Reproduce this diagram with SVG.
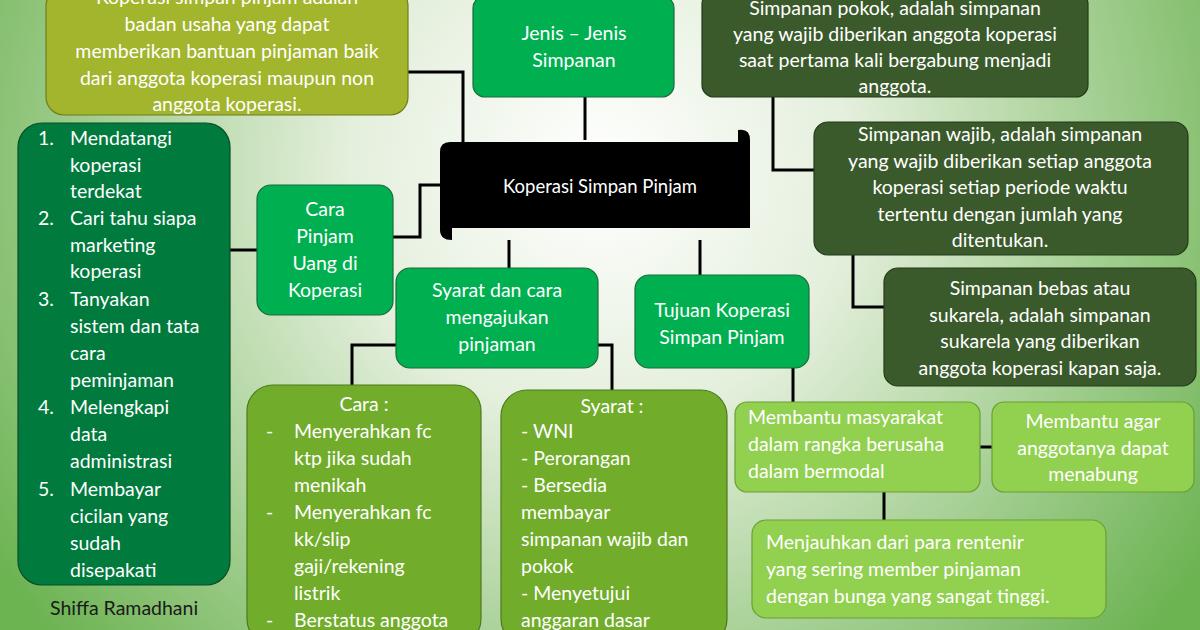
<svg xmlns="http://www.w3.org/2000/svg" width="1200" height="630" viewBox="0 0 1200 630">
<defs>
<radialGradient id="bg" cx="600" cy="170" r="720" gradientUnits="userSpaceOnUse">
<stop offset="0" stop-color="#ffffff"/><stop offset="0.35" stop-color="#e4efdc"/><stop offset="1" stop-color="#6cb352"/>
</radialGradient>
<style>
text{font-family:Lato,"Open Sans",sans-serif;font-size:19.5px;fill:#fff}
.c{text-anchor:middle}
.dk{fill:#1a1a1a}
.olive{fill:#a2b52c;stroke:#6f7d20}
.bright{fill:#00b050;stroke:#1a6b3a}
.dark{fill:#3b5a2b;stroke:#243a1a}
.deep{fill:#007a3d;stroke:#0b4d26}
.mid{fill:#71ad2b;stroke:#4d7a1e}
.light{fill:#92d050;stroke:#6aa036}
rect{stroke-width:1.2}
.con path{fill:none;stroke:#000;stroke-width:3}
</style>
</defs>
<rect width="1200" height="630" fill="url(#bg)"/>
<g class="con">
<path d="M408 72H463V142"/>
<path d="M585 97V140"/>
<path d="M773 97V170H814"/>
<path d="M853 255V307H884"/>
<path d="M440 185H420V237H393"/>
<path d="M257 250H230"/>
<path d="M509 240V268"/>
<path d="M700 240V275"/>
<path d="M396 345H352V385"/>
<path d="M598 345H612V390"/>
<path d="M793 368V402"/>
<path d="M980 447H992"/>
<path d="M884 492V520"/>
</g>
<g id="definisi"><rect class="olive" x="46" y="-12" width="362" height="127" rx="18"/>
<text class="c" x="227" y="4">Koperasi simpan pinjam adalah</text>
<text class="c" x="227" y="31">badan usaha yang dapat</text>
<text class="c" x="227" y="58">memberikan bantuan pinjaman baik</text>
<text class="c" x="227" y="85">dari anggota koperasi maupun non</text>
<text class="c" x="227" y="111">anggota koperasi.</text></g>
<g id="jenis"><rect class="bright" x="473" y="-4" width="201" height="101" rx="12"/>
<text class="c" x="574" y="40">Jenis – Jenis</text><text class="c" x="574" y="67">Simpanan</text></g>
<g id="pokok"><rect class="dark" x="702" y="-8" width="386" height="105" rx="12"/>
<text class="c" x="895" y="15">Simpanan pokok, adalah simpanan</text>
<text class="c" x="895" y="41">yang wajib diberikan anggota koperasi</text>
<text class="c" x="895" y="67">saat pertama kali bergabung menjadi</text>
<text class="c" x="895" y="93">anggota.</text></g>
<g id="pusat"><path d="M450 142H738V130Q750 128 750 140V228H452V240Q440 240 440 230V152Q440 142 450 142Z" fill="#000"/>
<text class="c" x="600" y="193" style="font-size:18.5px">Koperasi Simpan Pinjam</text></g>
<g id="wajib"><rect class="dark" x="814" y="122" width="374" height="133" rx="14"/>
<text class="c" x="1000" y="141">Simpanan wajib, adalah simpanan</text>
<text class="c" x="1000" y="168">yang wajib diberikan setiap anggota</text>
<text class="c" x="1000" y="194">koperasi setiap periode waktu</text>
<text class="c" x="1000" y="221">tertentu dengan jumlah yang</text>
<text class="c" x="1000" y="247">ditentukan.</text></g>
<g id="bebas"><rect class="dark" x="884" y="268" width="312" height="118" rx="14"/>
<text class="c" x="1040" y="295">Simpanan bebas atau</text>
<text class="c" x="1040" y="322">sukarela, adalah simpanan</text>
<text class="c" x="1040" y="348">sukarela yang diberikan</text>
<text class="c" x="1040" y="375">anggota koperasi kapan saja.</text></g>
<g id="langkah"><rect class="deep" x="18" y="123" width="212" height="462" rx="24"/>
<text x="38" y="145">1.</text><text x="70" y="145">Mendatangi</text><text x="70" y="172">koperasi</text><text x="70" y="198">terdekat</text>
<text x="38" y="225">2.</text><text x="70" y="225">Cari tahu siapa</text><text x="70" y="252">marketing</text><text x="70" y="278">koperasi</text>
<text x="38" y="306">3.</text><text x="70" y="306">Tanyakan</text><text x="70" y="333">sistem dan tata</text><text x="70" y="360">cara</text><text x="70" y="387">peminjaman</text>
<text x="38" y="414">4.</text><text x="70" y="414">Melengkapi</text><text x="70" y="441">data</text><text x="70" y="468">administrasi</text>
<text x="38" y="496">5.</text><text x="70" y="496">Membayar</text><text x="70" y="523">cicilan yang</text><text x="70" y="550">sudah</text><text x="70" y="577">disepakati</text></g>
<text class="dk" x="50" y="615">Shiffa Ramadhani</text>
<g id="cara-pinjam"><rect class="bright" x="257" y="185" width="136" height="130" rx="14"/>
<text class="c" x="325" y="216">Cara</text><text class="c" x="325" y="243">Pinjam</text><text class="c" x="325" y="270">Uang di</text><text class="c" x="325" y="297">Koperasi</text></g>
<g id="syarat-cara"><rect class="bright" x="396" y="268" width="202" height="100" rx="14"/>
<text class="c" x="497" y="297">Syarat dan cara</text><text class="c" x="497" y="324">mengajukan</text><text class="c" x="497" y="351">pinjaman</text></g>
<g id="tujuan"><rect class="bright" x="635" y="275" width="174" height="93" rx="14"/>
<text class="c" x="722" y="317">Tujuan Koperasi</text><text class="c" x="722" y="344">Simpan Pinjam</text></g>
<g id="cara"><rect class="mid" x="247" y="385" width="234" height="260" rx="26"/>
<text class="c" x="364" y="411">Cara :</text>
<text x="266" y="438">-</text><text x="294" y="438">Menyerahkan fc</text><text x="294" y="465">ktp jika sudah</text><text x="294" y="492">menikah</text>
<text x="266" y="519">-</text><text x="294" y="519">Menyerahkan fc</text><text x="294" y="546">kk/slip</text><text x="294" y="573">gaji/rekening</text><text x="294" y="600">listrik</text>
<text x="266" y="627">-</text><text x="294" y="627">Berstatus anggota</text></g>
<g id="syarat"><rect class="mid" x="501" y="390" width="226" height="255" rx="26"/>
<text class="c" x="612" y="413">Syarat :</text>
<text x="521" y="438">-  WNI</text><text x="521" y="465">- Perorangan</text><text x="521" y="492">- Bersedia</text><text x="521" y="519">membayar</text><text x="521" y="546">simpanan wajib dan</text><text x="521" y="573">pokok</text><text x="521" y="600">- Menyetujui</text><text x="521" y="627">anggaran dasar</text></g>
<g id="bantu-masyarakat"><rect class="light" x="735" y="402" width="245" height="90" rx="12"/>
<text x="748" y="424">Membantu masyarakat</text><text x="748" y="451">dalam rangka berusaha</text><text x="748" y="478">dalam bermodal</text></g>
<g id="bantu-menabung"><rect class="light" x="992" y="402" width="202" height="90" rx="12"/>
<text class="c" x="1093" y="428">Membantu agar</text><text class="c" x="1093" y="455">anggotanya dapat</text><text class="c" x="1093" y="481">menabung</text></g>
<g id="rentenir"><rect class="light" x="752" y="520" width="354" height="98" rx="14"/>
<text x="766" y="549">Menjauhkan dari para rentenir</text><text x="766" y="576">yang sering member pinjaman</text><text x="766" y="603">dengan bunga yang sangat tinggi.</text></g>
</svg>
